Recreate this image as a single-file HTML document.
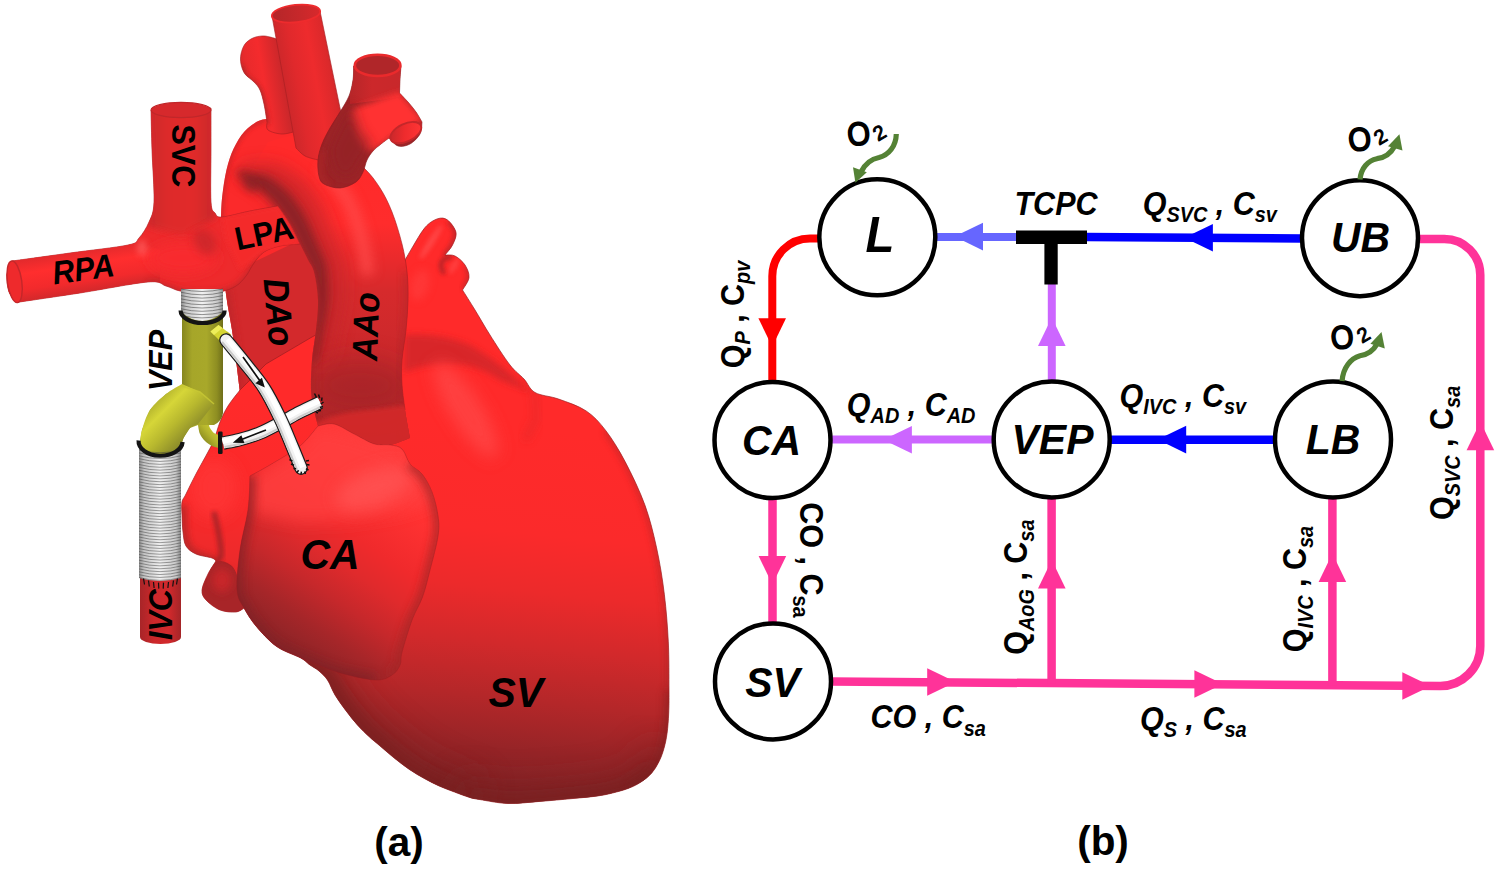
<!DOCTYPE html>
<html><head><meta charset="utf-8">
<style>
html,body{margin:0;padding:0;background:#fff;}
body{width:1499px;height:869px;overflow:hidden;}
svg{display:block;}
text{font-family:"Liberation Sans",sans-serif;font-weight:bold;fill:#000;}
.it{font-style:italic;}
.lbl{font-size:32.8px;font-style:italic;}
.up{font-style:normal;}
.up .sub{font-style:italic;}
.up .subn{font-style:normal;font-size:21.4px;}
.sub{font-size:21.4px;}
.node{font-size:43.3px;font-style:italic;text-anchor:middle;}
.cap{font-size:40.5px;text-anchor:middle;}
.oo{font-size:31px;font-weight:normal;stroke:#000;stroke-width:1.7;}
.o2s{font-size:20px;font-weight:normal;stroke:#000;stroke-width:1;}
.hlb{font-size:32.8px;}
.hli{font-size:32.8px;font-style:italic;}
.hln{font-size:43.3px;font-style:italic;}
.circ{fill:#fff;stroke:#000;stroke-width:4.5;}
</style></head>
<body>
<svg width="1499" height="869" viewBox="0 0 1499 869">
<rect width="1499" height="869" fill="#fff"/>
<!--HEART-->
<g id="heart">
<defs>
<filter id="b2" x="-60%" y="-60%" width="220%" height="220%"><feGaussianBlur stdDeviation="2"/></filter>
<filter id="b3" x="-60%" y="-60%" width="220%" height="220%"><feGaussianBlur stdDeviation="3"/></filter>
<filter id="b4" x="-60%" y="-60%" width="220%" height="220%"><feGaussianBlur stdDeviation="4"/></filter>
<filter id="b6" x="-60%" y="-60%" width="220%" height="220%"><feGaussianBlur stdDeviation="6"/></filter>
<filter id="b8" x="-60%" y="-60%" width="220%" height="220%"><feGaussianBlur stdDeviation="8"/></filter>
<filter id="b12" x="-60%" y="-60%" width="220%" height="220%"><feGaussianBlur stdDeviation="12"/></filter>
<filter id="b16" x="-60%" y="-60%" width="220%" height="220%"><feGaussianBlur stdDeviation="16"/></filter>
<filter id="b24" x="-60%" y="-60%" width="220%" height="220%"><feGaussianBlur stdDeviation="24"/></filter>
<clipPath id="cArchB"><path d="M240.0 392.0 C239.3 386.7 237.3 370.3 236.0 360.0 C234.7 349.7 233.7 341.0 232.0 330.0 C230.3 319.0 227.7 307.3 226.0 294.0 C224.3 280.7 222.8 263.0 222.0 250.0 C221.2 237.0 220.8 226.0 221.0 216.0 C221.2 206.0 221.8 198.7 223.0 190.0 C224.2 181.3 225.8 171.7 228.0 164.0 C230.2 156.3 232.7 150.0 236.0 144.0 C239.3 138.0 243.0 132.2 248.0 128.0 C253.0 123.8 258.7 119.7 266.0 119.0 C273.3 118.3 281.3 120.5 292.0 124.0 C302.7 127.5 318.0 132.7 330.0 140.0 C342.0 147.3 358.3 163.3 364.0 168.0 L400.0 330.0 L320.0 360.0 L266.0 366.0 L240.0 392.0 Z"/></clipPath>
<clipPath id="cTV"><path d="M151.0 110.0 C151.2 116.7 151.5 134.7 152.0 150.0 C152.5 165.3 154.5 190.0 154.0 202.0 C153.5 214.0 151.5 216.0 149.0 222.0 C146.5 228.0 142.5 234.2 139.0 238.0 C135.5 241.8 139.5 242.5 128.0 245.0 C116.5 247.5 89.3 250.3 70.0 253.0 C50.7 255.7 21.7 259.7 12.0 261.0 C11.2 263.3 7.5 269.8 7.0 275.0 C6.5 280.2 7.3 287.4 9.0 292.0 C10.7 296.6 15.7 300.7 17.0 302.4 C27.5 300.8 58.2 296.4 80.0 293.0 C101.8 289.6 133.7 283.2 148.0 282.0 C162.3 280.8 160.7 284.5 166.0 286.0 C171.3 287.5 174.3 289.8 180.0 291.0 C185.7 292.2 193.3 292.8 200.0 293.0 C206.7 293.2 214.0 293.2 220.0 292.0 C226.0 290.8 231.7 288.7 236.0 286.0 C240.3 283.3 243.0 279.8 246.0 276.0 C249.0 272.2 251.0 267.0 254.0 263.0 C257.0 259.0 259.7 254.8 264.0 252.0 C268.3 249.2 274.0 247.3 280.0 246.0 C286.0 244.7 296.7 244.3 300.0 244.0 L290.0 224.0 L278.0 206.0 C273.3 206.8 259.3 209.2 250.0 211.0 C240.7 212.8 227.8 216.7 222.0 217.0 C216.2 217.3 216.8 215.5 215.0 213.0 C213.2 210.5 211.7 212.5 211.0 202.0 C210.3 191.5 211.0 165.7 211.0 150.0 C211.0 134.3 211.0 115.0 211.0 108.0 L151.0 110.0 Z"/></clipPath>
<linearGradient id="gTV" gradientUnits="userSpaceOnUse" x1="150" y1="0" x2="212" y2="0"><stop offset="0" stop-color="#cc282b"/><stop offset="0.3" stop-color="#de2a2c"/><stop offset="0.7" stop-color="#e22a2c"/><stop offset="1" stop-color="#ca282b"/></linearGradient>
<linearGradient id="gRPA" gradientUnits="userSpaceOnUse" x1="70" y1="250" x2="77" y2="296"><stop offset="0" stop-color="#de292c"/><stop offset="0.35" stop-color="#ff2e2e"/><stop offset="0.7" stop-color="#f22a2c"/><stop offset="1" stop-color="#cc282b"/></linearGradient>
<clipPath id="cBody"><path d="M240.0 390.0 C238.0 392.7 231.3 400.7 228.0 406.0 C224.7 411.3 222.3 416.3 220.0 422.0 C217.7 427.7 216.0 435.0 214.0 440.0 C212.0 445.0 211.0 446.3 208.0 452.0 C205.0 457.7 199.7 467.0 196.0 474.0 C192.3 481.0 188.3 489.3 186.0 494.0 C183.7 498.7 182.7 498.5 182.0 502.0 C181.3 505.5 181.8 510.0 182.0 515.0 C182.2 520.0 182.3 526.8 183.0 532.0 C183.7 537.2 183.8 542.3 186.0 546.0 C188.2 549.7 191.7 552.0 196.0 554.0 C200.3 556.0 208.7 556.8 212.0 558.0 C215.3 559.2 215.3 560.5 216.0 561.0 C214.7 563.2 210.3 569.2 208.0 574.0 C205.7 578.8 202.3 585.7 202.0 590.0 C201.7 594.3 203.0 596.7 206.0 600.0 C209.0 603.3 215.0 608.0 220.0 610.0 C225.0 612.0 232.0 612.3 236.0 612.0 C240.0 611.7 242.7 608.7 244.0 608.0 C246.0 611.0 250.7 619.7 256.0 626.0 C261.3 632.3 268.7 640.8 276.0 646.0 C283.3 651.2 294.3 654.3 300.0 657.5 C305.7 660.7 306.8 662.8 310.0 665.0 C313.2 667.2 316.1 668.5 319.0 671.0 C321.9 673.5 324.8 676.0 327.5 680.0 C330.2 684.0 332.0 690.0 335.0 695.0 C338.0 700.0 341.7 705.0 345.4 710.0 C349.1 715.0 353.4 720.4 357.4 724.9 C361.4 729.4 365.6 733.3 369.3 736.8 C373.0 740.3 375.6 742.2 379.8 745.8 C384.1 749.4 389.8 754.5 394.8 758.5 C399.8 762.5 404.7 766.3 409.7 769.7 C414.7 773.1 419.7 776.0 424.7 778.7 C429.7 781.5 434.6 784.0 439.6 786.2 C444.6 788.4 449.6 790.2 454.6 792.1 C459.6 794.0 465.3 796.1 469.5 797.4 C473.7 798.6 473.6 798.6 480.0 799.6 C486.4 800.6 498.0 803.2 508.0 803.5 C518.0 803.8 529.3 802.2 540.0 801.4 C550.7 800.6 562.3 799.5 572.0 798.6 C581.7 797.7 591.1 796.9 598.0 795.9 C604.9 794.9 608.3 794.1 613.4 792.8 C618.5 791.5 624.2 790.0 628.8 788.2 C633.4 786.4 637.2 784.5 641.0 782.0 C644.8 779.5 648.7 776.5 651.8 772.9 C654.9 769.3 657.5 764.7 659.5 760.6 C661.5 756.5 662.7 752.9 664.0 748.3 C665.3 743.7 666.3 738.9 667.1 733.0 C667.9 727.1 668.4 720.2 668.7 713.0 C669.0 705.8 669.1 701.9 669.0 690.0 C668.9 678.1 669.1 657.7 668.3 641.8 C667.5 625.9 666.3 610.4 664.4 594.8 C662.5 579.1 659.9 562.9 656.6 547.9 C653.3 532.9 650.0 519.1 644.8 504.8 C639.6 490.5 631.7 474.2 625.2 461.8 C618.7 449.4 612.2 439.0 605.7 430.5 C599.2 422.0 593.9 416.1 586.1 410.9 C578.3 405.7 567.2 402.2 558.7 399.1 C550.2 396.0 540.8 395.9 535.0 392.5 C529.2 389.1 528.2 383.6 524.0 379.0 C519.8 374.4 515.7 372.3 510.0 365.0 C504.3 357.7 495.8 344.2 490.0 335.0 C484.2 325.8 479.6 317.5 475.0 310.0 C470.4 302.5 464.6 293.3 462.5 290.0 C463.6 287.9 468.6 281.7 469.0 277.5 C469.4 273.3 467.3 268.6 465.0 265.0 C462.7 261.4 458.3 257.7 455.0 256.0 C451.7 254.3 446.7 255.2 445.0 255.0 C446.2 253.3 450.7 248.8 452.5 245.0 C454.3 241.2 456.8 236.7 456.0 232.5 C455.2 228.3 450.6 222.3 447.5 220.0 C444.4 217.7 441.2 217.6 437.5 218.8 C433.8 220.1 429.2 222.6 425.0 227.5 C420.8 232.4 415.5 242.2 412.0 248.0 C408.5 253.8 405.3 259.7 404.0 262.0 L380.0 300.0 L312.0 337.0 L266.0 364.0 L240.0 390.0 Z"/></clipPath>
<linearGradient id="gBody" gradientUnits="userSpaceOnUse" x1="545" y1="430" x2="505" y2="815"><stop offset="0" stop-color="#ff2a2a"/><stop offset="0.27" stop-color="#fb2a2b"/><stop offset="0.42" stop-color="#ec2a2b"/><stop offset="0.56" stop-color="#d2292b"/><stop offset="0.7" stop-color="#b42729"/><stop offset="0.83" stop-color="#962427"/><stop offset="0.93" stop-color="#842326"/><stop offset="1" stop-color="#7e2225"/></linearGradient>
<clipPath id="cAAo"><path d="M246.0 180.0 C248.3 181.3 255.0 184.0 260.0 188.0 C265.0 192.0 271.0 198.0 276.0 204.0 C281.0 210.0 286.0 217.3 290.0 224.0 C294.0 230.7 297.0 238.0 300.0 244.0 C303.0 250.0 305.7 255.3 308.0 260.0 C310.3 264.7 312.3 265.3 314.0 272.0 C315.7 278.7 317.7 290.3 318.0 300.0 C318.3 309.7 317.0 320.0 316.0 330.0 C315.0 340.0 312.8 350.0 312.0 360.0 C311.2 370.0 310.7 381.7 311.0 390.0 C311.3 398.3 312.8 404.0 314.0 410.0 C315.2 416.0 317.3 423.3 318.0 426.0 C320.7 425.7 328.0 422.7 334.0 424.0 C340.0 425.3 347.3 430.7 354.0 434.0 C360.7 437.3 368.0 442.2 374.0 444.0 C380.0 445.8 384.0 446.0 390.0 445.0 C396.0 444.0 406.7 439.2 410.0 438.0 C409.2 433.3 406.3 418.8 405.0 410.0 C403.7 401.2 402.5 393.3 402.0 385.0 C401.5 376.7 401.3 369.2 402.0 360.0 C402.7 350.8 405.0 340.0 406.0 330.0 C407.0 320.0 407.8 309.7 408.0 300.0 C408.2 290.3 408.0 281.3 407.0 272.0 C406.0 262.7 404.5 254.0 402.0 244.0 C399.5 234.0 395.7 221.3 392.0 212.0 C388.3 202.7 384.7 195.3 380.0 188.0 C375.3 180.7 370.7 174.3 364.0 168.0 C357.3 161.7 350.7 155.3 340.0 150.0 C329.3 144.7 312.0 137.3 300.0 136.0 C288.0 134.7 273.3 141.0 268.0 142.0 L246.0 180.0 Z"/></clipPath>
<linearGradient id="gAAoV" gradientUnits="userSpaceOnUse" x1="0" y1="170" x2="0" y2="440"><stop offset="0" stop-color="#ff2a2a"/><stop offset="0.2" stop-color="#ff2c2c"/><stop offset="0.33" stop-color="#ea2a2c"/><stop offset="0.45" stop-color="#d62a2c"/><stop offset="0.75" stop-color="#c8282b"/><stop offset="0.9" stop-color="#b42629"/><stop offset="1" stop-color="#a82528"/></linearGradient>
<clipPath id="cFold"><path d="M246.0 180.0 C248.3 181.3 255.0 184.0 260.0 188.0 C265.0 192.0 271.0 198.0 276.0 204.0 C281.0 210.0 286.0 217.3 290.0 224.0 C294.0 230.7 297.0 238.0 300.0 244.0 C303.0 250.0 305.7 255.3 308.0 260.0 C310.3 264.7 312.3 265.3 314.0 272.0 C315.7 278.7 317.7 290.3 318.0 300.0 C318.3 309.7 317.0 320.0 316.0 330.0 C315.0 340.0 312.8 350.0 312.0 360.0 C311.2 370.0 310.7 381.7 311.0 390.0 C311.3 398.3 312.8 404.0 314.0 410.0 C315.2 416.0 317.3 423.3 318.0 426.0 C320.7 425.7 328.0 422.7 334.0 424.0 C340.0 425.3 347.3 430.7 354.0 434.0 C360.7 437.3 368.0 442.2 374.0 444.0 C380.0 445.8 384.0 446.0 390.0 445.0 C396.0 444.0 406.7 439.2 410.0 438.0 C409.2 433.3 406.3 418.8 405.0 410.0 C403.7 401.2 402.5 393.3 402.0 385.0 C401.5 376.7 401.3 369.2 402.0 360.0 C402.7 350.8 405.0 340.0 406.0 330.0 C407.0 320.0 407.8 309.7 408.0 300.0 C408.2 290.3 408.0 281.3 407.0 272.0 C406.0 262.7 404.5 254.0 402.0 244.0 C399.5 234.0 395.7 221.3 392.0 212.0 C388.3 202.7 384.7 195.3 380.0 188.0 C375.3 180.7 370.7 174.3 364.0 168.0 C357.3 161.7 350.7 155.3 340.0 150.0 C329.3 144.7 312.0 137.3 300.0 136.0 C288.0 134.7 273.3 141.0 268.0 142.0 L246.0 180.0 Z"/><path d="M215 110 L300 110 L300 200 L278 206 L222 217 Z"/></clipPath>
<clipPath id="cA"><path d="M267.0 122.0 C266.5 119.0 265.2 109.3 264.0 104.0 C262.8 98.7 261.7 93.7 260.0 90.0 C258.3 86.3 256.5 84.7 254.0 82.0 C251.5 79.3 247.2 77.0 245.0 74.0 C242.8 71.0 241.7 67.3 241.0 64.0 C240.3 60.7 240.3 57.3 241.0 54.0 C241.7 50.7 243.0 46.7 245.0 44.0 C247.0 41.3 250.2 39.3 253.0 38.0 C255.8 36.7 259.2 36.2 262.0 36.0 C264.8 35.8 267.0 36.3 270.0 37.0 C273.0 37.7 278.3 39.5 280.0 40.0 L297.0 131.0 C294.5 131.5 286.8 134.2 282.0 134.0 C277.2 133.8 270.5 132.0 268.0 130.0 C265.5 128.0 267.2 123.3 267.0 122.0 Z"/></clipPath>
<linearGradient id="gA" gradientUnits="userSpaceOnUse" x1="238" y1="75" x2="292" y2="66"><stop offset="0" stop-color="#cc282b"/><stop offset="0.18" stop-color="#e82a2c"/><stop offset="0.45" stop-color="#f42b2d"/><stop offset="0.75" stop-color="#d2282b"/><stop offset="1" stop-color="#b42629"/></linearGradient>
<linearGradient id="gB" gradientUnits="userSpaceOnUse" x1="270" y1="82" x2="336" y2="70"><stop offset="0" stop-color="#ac2528"/><stop offset="0.12" stop-color="#c6272a"/><stop offset="0.4" stop-color="#e0292c"/><stop offset="0.68" stop-color="#ee2b2d"/><stop offset="0.9" stop-color="#dc292b"/><stop offset="1" stop-color="#c8282b"/></linearGradient>
<linearGradient id="gBe" gradientUnits="userSpaceOnUse" x1="272" y1="0" x2="320" y2="0"><stop offset="0" stop-color="#b42629"/><stop offset="0.6" stop-color="#c8282b"/><stop offset="1" stop-color="#d8292c"/></linearGradient>
<clipPath id="cC"><path d="M353.6 66.0 C353.5 68.3 353.8 75.0 353.0 80.0 C352.2 85.0 351.2 90.7 349.0 96.0 C346.8 101.3 343.2 106.7 340.0 112.0 C336.8 117.3 333.0 122.7 330.0 128.0 C327.0 133.3 324.0 138.7 322.0 144.0 C320.0 149.3 318.5 154.7 318.0 160.0 C317.5 165.3 318.0 172.0 319.0 176.0 C320.0 180.0 320.5 182.0 324.0 184.0 C327.5 186.0 334.7 188.3 340.0 188.0 C345.3 187.7 352.2 184.7 356.0 182.0 C359.8 179.3 361.2 175.7 363.0 172.0 C364.8 168.3 365.3 163.5 367.0 160.0 C368.7 156.5 370.7 153.7 373.0 151.0 C375.3 148.3 378.3 146.2 381.0 144.0 C383.7 141.8 387.7 139.0 389.0 138.0 C390.5 139.3 394.5 145.0 398.0 146.0 C401.5 147.0 406.3 146.0 410.0 144.0 C413.7 142.0 418.0 137.7 420.0 134.0 C422.0 130.3 421.7 124.0 422.0 122.0 C421.0 120.3 418.3 115.3 416.0 112.0 C413.7 108.7 410.8 105.2 408.0 102.0 C405.2 98.8 400.9 94.5 399.5 93.0 C399.6 90.8 399.8 84.5 400.0 80.0 C400.2 75.5 400.8 68.3 401.0 66.0 L353.6 66.0 Z"/></clipPath>
<linearGradient id="gCt" gradientUnits="userSpaceOnUse" x1="352" y1="0" x2="402" y2="0"><stop offset="0" stop-color="#b82629"/><stop offset="0.4" stop-color="#cc282b"/><stop offset="1" stop-color="#c8282b"/></linearGradient>
<linearGradient id="gCe" gradientUnits="userSpaceOnUse" x1="392" y1="125" x2="420" y2="140"><stop offset="0" stop-color="#c8282b"/><stop offset="0.45" stop-color="#ee2b2d"/><stop offset="1" stop-color="#ff3636"/></linearGradient>
<clipPath id="cCA"><path d="M250.0 476.0 C253.3 474.2 261.7 470.0 270.0 465.0 C278.3 460.0 292.0 452.5 300.0 446.0 C308.0 439.5 315.0 429.3 318.0 426.0 C320.7 425.7 328.0 422.7 334.0 424.0 C340.0 425.3 347.3 430.7 354.0 434.0 C360.7 437.3 368.0 442.2 374.0 444.0 C380.0 445.8 385.3 444.2 390.0 445.0 C394.7 445.8 398.7 445.8 402.0 449.0 C405.3 452.2 406.7 459.8 410.0 464.0 C413.3 468.2 418.3 469.3 422.0 474.0 C425.7 478.7 429.3 485.0 432.0 492.0 C434.7 499.0 437.0 508.7 438.0 516.0 C439.0 523.3 439.3 527.0 438.0 536.0 C436.7 545.0 432.6 559.8 430.0 570.0 C427.4 580.2 425.5 588.7 422.5 597.0 C419.5 605.3 415.4 610.8 412.0 620.0 C408.6 629.2 404.0 644.5 402.0 652.0 C400.0 659.5 401.7 661.2 400.0 665.0 C398.3 668.8 396.2 672.5 392.0 675.0 C387.8 677.5 384.2 680.5 375.0 680.0 C365.8 679.5 349.5 675.8 337.0 672.0 C324.5 668.2 310.2 661.8 300.0 657.5 C289.8 653.2 283.3 651.2 276.0 646.0 C268.7 640.8 261.3 632.3 256.0 626.0 C250.7 619.7 247.2 614.0 244.0 608.0 C240.8 602.0 237.7 599.7 237.0 590.0 C236.3 580.3 238.2 563.3 240.0 550.0 C241.8 536.7 246.3 522.3 248.0 510.0 C249.7 497.7 249.7 481.7 250.0 476.0 Z"/></clipPath>
<linearGradient id="gCA" gradientUnits="userSpaceOnUse" x1="412" y1="452" x2="268" y2="662"><stop offset="0" stop-color="#ff3c3c"/><stop offset="0.2" stop-color="#ff3232"/><stop offset="0.4" stop-color="#f02a2c"/><stop offset="0.52" stop-color="#e02a2c"/><stop offset="0.65" stop-color="#c6282b"/><stop offset="0.78" stop-color="#a62629"/><stop offset="0.9" stop-color="#8e2427"/><stop offset="1" stop-color="#822226"/></linearGradient>
<linearGradient id="gIVC" gradientUnits="userSpaceOnUse" x1="140" y1="0" x2="181" y2="0"><stop offset="0" stop-color="#a82528"/><stop offset="0.35" stop-color="#cc282b"/><stop offset="0.7" stop-color="#d2292c"/><stop offset="1" stop-color="#a42528"/></linearGradient>
<linearGradient id="gGraft" gradientUnits="userSpaceOnUse" x1="139" y1="0" x2="181" y2="0"><stop offset="0" stop-color="#8c8c8c"/><stop offset="0.12" stop-color="#c4c4c4"/><stop offset="0.5" stop-color="#f0f0f0"/><stop offset="0.88" stop-color="#c8c8c8"/><stop offset="1" stop-color="#888888"/></linearGradient>
<linearGradient id="gGraft2" gradientUnits="userSpaceOnUse" x1="181" y1="0" x2="223" y2="0"><stop offset="0" stop-color="#8c8c8c"/><stop offset="0.12" stop-color="#c4c4c4"/><stop offset="0.5" stop-color="#f2f2f2"/><stop offset="0.88" stop-color="#c8c8c8"/><stop offset="1" stop-color="#888888"/></linearGradient>
<linearGradient id="gYel" gradientUnits="userSpaceOnUse" x1="182" y1="0" x2="223" y2="0"><stop offset="0" stop-color="#86861f"/><stop offset="0.25" stop-color="#a6a629"/><stop offset="0.6" stop-color="#a8a82a"/><stop offset="0.85" stop-color="#8e8e22"/><stop offset="1" stop-color="#6e6e1a"/></linearGradient>
<linearGradient id="gYel2" gradientUnits="userSpaceOnUse" x1="148" y1="398" x2="196" y2="446"><stop offset="0" stop-color="#a0a028"/><stop offset="0.3" stop-color="#d6d638"/><stop offset="0.55" stop-color="#b8b82e"/><stop offset="0.8" stop-color="#90902a"/><stop offset="1" stop-color="#6e6e1a"/></linearGradient>
<pattern id="ribs" patternUnits="userSpaceOnUse" x="0" y="450.5" width="10" height="2.85"><rect width="10" height="1.05" fill="#2a2a2a" opacity=".8"/></pattern>
<pattern id="ribs2" patternUnits="userSpaceOnUse" x="0" y="293" width="10" height="3.3"><rect width="10" height="1.2" fill="#2a2a2a" opacity=".8"/></pattern>
<linearGradient id="gNoz" gradientUnits="userSpaceOnUse" x1="200" y1="440" x2="214" y2="428"><stop offset="0" stop-color="#84841f"/><stop offset="0.6" stop-color="#b4b42c"/><stop offset="1" stop-color="#c8c832"/></linearGradient>
</defs>
<path d="M240.0 392.0 C239.3 386.7 237.3 370.3 236.0 360.0 C234.7 349.7 233.7 341.0 232.0 330.0 C230.3 319.0 227.7 307.3 226.0 294.0 C224.3 280.7 222.8 263.0 222.0 250.0 C221.2 237.0 220.8 226.0 221.0 216.0 C221.2 206.0 221.8 198.7 223.0 190.0 C224.2 181.3 225.8 171.7 228.0 164.0 C230.2 156.3 232.7 150.0 236.0 144.0 C239.3 138.0 243.0 132.2 248.0 128.0 C253.0 123.8 258.7 119.7 266.0 119.0 C273.3 118.3 281.3 120.5 292.0 124.0 C302.7 127.5 318.0 132.7 330.0 140.0 C342.0 147.3 358.3 163.3 364.0 168.0 L400.0 330.0 L320.0 360.0 L266.0 366.0 L240.0 392.0 Z" fill="#fb2a2b"/>
<g clip-path="url(#cArchB)">
<path d="M218 262 L254 262 L300 240 L330 300 L320 360 L230 400 Z" fill="#d3292c"/>
<path d="M226 290 L232 330 L238 370 L240 395" fill="none" stroke="#b82629" stroke-width="7" filter="url(#b3)" opacity=".7"/>
<path d="M221.0 222.0 C221.3 216.7 221.8 199.7 223.0 190.0 C224.2 180.3 225.8 171.7 228.0 164.0 C230.2 156.3 232.7 150.0 236.0 144.0 C239.3 138.0 243.0 132.2 248.0 128.0 C253.0 123.8 263.0 120.5 266.0 119.0" fill="none" stroke="#c0272a" stroke-width="4" filter="url(#b2)" opacity=".8"/>
</g>
<path d="M151.0 110.0 C151.2 116.7 151.5 134.7 152.0 150.0 C152.5 165.3 154.5 190.0 154.0 202.0 C153.5 214.0 151.5 216.0 149.0 222.0 C146.5 228.0 142.5 234.2 139.0 238.0 C135.5 241.8 139.5 242.5 128.0 245.0 C116.5 247.5 89.3 250.3 70.0 253.0 C50.7 255.7 21.7 259.7 12.0 261.0 C11.2 263.3 7.5 269.8 7.0 275.0 C6.5 280.2 7.3 287.4 9.0 292.0 C10.7 296.6 15.7 300.7 17.0 302.4 C27.5 300.8 58.2 296.4 80.0 293.0 C101.8 289.6 133.7 283.2 148.0 282.0 C162.3 280.8 160.7 284.5 166.0 286.0 C171.3 287.5 174.3 289.8 180.0 291.0 C185.7 292.2 193.3 292.8 200.0 293.0 C206.7 293.2 214.0 293.2 220.0 292.0 C226.0 290.8 231.7 288.7 236.0 286.0 C240.3 283.3 243.0 279.8 246.0 276.0 C249.0 272.2 251.0 267.0 254.0 263.0 C257.0 259.0 259.7 254.8 264.0 252.0 C268.3 249.2 274.0 247.3 280.0 246.0 C286.0 244.7 296.7 244.3 300.0 244.0 L290.0 224.0 L278.0 206.0 C273.3 206.8 259.3 209.2 250.0 211.0 C240.7 212.8 227.8 216.7 222.0 217.0 C216.2 217.3 216.8 215.5 215.0 213.0 C213.2 210.5 211.7 212.5 211.0 202.0 C210.3 191.5 211.0 165.7 211.0 150.0 C211.0 134.3 211.0 115.0 211.0 108.0 L151.0 110.0 Z" fill="#ee2a2c" stroke="#a81e22" stroke-width=".9" stroke-opacity=".7"/>
<g clip-path="url(#cTV)">
<path d="M148 100 L214 100 L214 200 L216 218 L182 236 L146 226 L152 200 Z" fill="url(#gTV)" filter="url(#b3)"/>
<path d="M0 255 L128 238 L160 250 L160 285 L0 310 Z" fill="url(#gRPA)"/>
<ellipse cx="183" cy="258" rx="34" ry="16" fill="#f82c2d" filter="url(#b6)"/>
<ellipse cx="205" cy="242" rx="10" ry="14" transform="rotate(-30 205 242)" fill="#c8282b" filter="url(#b4)" opacity=".8"/>
<ellipse cx="142" cy="248" rx="5" ry="8" fill="#ff5a5a" filter="url(#b3)" opacity=".8"/>
<path d="M148.0 284.0 C151.0 284.7 160.7 286.5 166.0 288.0 C171.3 289.5 174.3 291.8 180.0 293.0 C185.7 294.2 193.3 294.8 200.0 295.0 C206.7 295.2 213.8 295.2 220.0 294.0 C226.2 292.8 232.3 290.8 237.0 288.0 C241.7 285.2 244.8 281.0 248.0 277.0 C251.2 273.0 253.0 267.8 256.0 264.0 C259.0 260.2 264.3 255.7 266.0 254.0" fill="none" stroke="#b42629" stroke-width="7" filter="url(#b3)" opacity=".75"/>
<path d="M222 217 L278 206 L300 244 L264 252 L240 270 L226 240 Z" fill="#f42a2c" filter="url(#b2)"/>
</g>
<ellipse cx="181" cy="110" rx="30" ry="7.6" fill="#d6292c" stroke="#c0272a" stroke-width="1.1"/>
<ellipse cx="14.6" cy="281.8" rx="7.2" ry="21" transform="rotate(-8 14.6 281.8)" fill="#ee2a2c" stroke="#c4272a" stroke-width="1.4"/>
<path d="M240.0 390.0 C238.0 392.7 231.3 400.7 228.0 406.0 C224.7 411.3 222.3 416.3 220.0 422.0 C217.7 427.7 216.0 435.0 214.0 440.0 C212.0 445.0 211.0 446.3 208.0 452.0 C205.0 457.7 199.7 467.0 196.0 474.0 C192.3 481.0 188.3 489.3 186.0 494.0 C183.7 498.7 182.7 498.5 182.0 502.0 C181.3 505.5 181.8 510.0 182.0 515.0 C182.2 520.0 182.3 526.8 183.0 532.0 C183.7 537.2 183.8 542.3 186.0 546.0 C188.2 549.7 191.7 552.0 196.0 554.0 C200.3 556.0 208.7 556.8 212.0 558.0 C215.3 559.2 215.3 560.5 216.0 561.0 C214.7 563.2 210.3 569.2 208.0 574.0 C205.7 578.8 202.3 585.7 202.0 590.0 C201.7 594.3 203.0 596.7 206.0 600.0 C209.0 603.3 215.0 608.0 220.0 610.0 C225.0 612.0 232.0 612.3 236.0 612.0 C240.0 611.7 242.7 608.7 244.0 608.0 C246.0 611.0 250.7 619.7 256.0 626.0 C261.3 632.3 268.7 640.8 276.0 646.0 C283.3 651.2 294.3 654.3 300.0 657.5 C305.7 660.7 306.8 662.8 310.0 665.0 C313.2 667.2 316.1 668.5 319.0 671.0 C321.9 673.5 324.8 676.0 327.5 680.0 C330.2 684.0 332.0 690.0 335.0 695.0 C338.0 700.0 341.7 705.0 345.4 710.0 C349.1 715.0 353.4 720.4 357.4 724.9 C361.4 729.4 365.6 733.3 369.3 736.8 C373.0 740.3 375.6 742.2 379.8 745.8 C384.1 749.4 389.8 754.5 394.8 758.5 C399.8 762.5 404.7 766.3 409.7 769.7 C414.7 773.1 419.7 776.0 424.7 778.7 C429.7 781.5 434.6 784.0 439.6 786.2 C444.6 788.4 449.6 790.2 454.6 792.1 C459.6 794.0 465.3 796.1 469.5 797.4 C473.7 798.6 473.6 798.6 480.0 799.6 C486.4 800.6 498.0 803.2 508.0 803.5 C518.0 803.8 529.3 802.2 540.0 801.4 C550.7 800.6 562.3 799.5 572.0 798.6 C581.7 797.7 591.1 796.9 598.0 795.9 C604.9 794.9 608.3 794.1 613.4 792.8 C618.5 791.5 624.2 790.0 628.8 788.2 C633.4 786.4 637.2 784.5 641.0 782.0 C644.8 779.5 648.7 776.5 651.8 772.9 C654.9 769.3 657.5 764.7 659.5 760.6 C661.5 756.5 662.7 752.9 664.0 748.3 C665.3 743.7 666.3 738.9 667.1 733.0 C667.9 727.1 668.4 720.2 668.7 713.0 C669.0 705.8 669.1 701.9 669.0 690.0 C668.9 678.1 669.1 657.7 668.3 641.8 C667.5 625.9 666.3 610.4 664.4 594.8 C662.5 579.1 659.9 562.9 656.6 547.9 C653.3 532.9 650.0 519.1 644.8 504.8 C639.6 490.5 631.7 474.2 625.2 461.8 C618.7 449.4 612.2 439.0 605.7 430.5 C599.2 422.0 593.9 416.1 586.1 410.9 C578.3 405.7 567.2 402.2 558.7 399.1 C550.2 396.0 540.8 395.9 535.0 392.5 C529.2 389.1 528.2 383.6 524.0 379.0 C519.8 374.4 515.7 372.3 510.0 365.0 C504.3 357.7 495.8 344.2 490.0 335.0 C484.2 325.8 479.6 317.5 475.0 310.0 C470.4 302.5 464.6 293.3 462.5 290.0 C463.6 287.9 468.6 281.7 469.0 277.5 C469.4 273.3 467.3 268.6 465.0 265.0 C462.7 261.4 458.3 257.7 455.0 256.0 C451.7 254.3 446.7 255.2 445.0 255.0 C446.2 253.3 450.7 248.8 452.5 245.0 C454.3 241.2 456.8 236.7 456.0 232.5 C455.2 228.3 450.6 222.3 447.5 220.0 C444.4 217.7 441.2 217.6 437.5 218.8 C433.8 220.1 429.2 222.6 425.0 227.5 C420.8 232.4 415.5 242.2 412.0 248.0 C408.5 253.8 405.3 259.7 404.0 262.0 L380.0 300.0 L312.0 337.0 L266.0 364.0 L240.0 390.0 Z" fill="url(#gBody)" stroke="#9a1c20" stroke-width=".9" stroke-opacity=".75"/>
<g clip-path="url(#cBody)">
<path d="M300.0 657.5 C301.7 658.8 306.8 662.8 310.0 665.0 C313.2 667.2 316.1 668.5 319.0 671.0 C321.9 673.5 324.8 676.0 327.5 680.0 C330.2 684.0 332.0 690.0 335.0 695.0 C338.0 700.0 341.7 705.0 345.4 710.0 C349.1 715.0 353.4 720.4 357.4 724.9 C361.4 729.4 365.6 733.3 369.3 736.8 C373.0 740.3 375.6 742.2 379.8 745.8 C384.1 749.4 389.8 754.5 394.8 758.5 C399.8 762.5 404.7 766.3 409.7 769.7 C414.7 773.1 419.7 776.0 424.7 778.7 C429.7 781.5 434.6 784.0 439.6 786.2 C444.6 788.4 449.6 790.2 454.6 792.1 C459.6 794.0 465.3 796.1 469.5 797.4 C473.7 798.6 473.6 798.6 480.0 799.6 C486.4 800.6 498.0 803.2 508.0 803.5 C518.0 803.8 529.3 802.2 540.0 801.4 C550.7 800.6 562.3 799.5 572.0 798.6 C581.7 797.7 591.1 796.9 598.0 795.9 C604.9 794.9 608.3 794.1 613.4 792.8 C618.5 791.5 624.2 790.0 628.8 788.2 C633.4 786.4 637.2 784.5 641.0 782.0 C644.8 779.5 650.0 774.4 651.8 772.9" fill="none" stroke="#7a2124" stroke-width="20" filter="url(#b6)" opacity=".7"/>
<path d="M628.8 788.2 C630.8 787.2 637.2 784.5 641.0 782.0 C644.8 779.5 648.7 776.5 651.8 772.9 C654.9 769.3 657.5 764.7 659.5 760.6 C661.5 756.5 662.7 752.9 664.0 748.3 C665.3 743.7 666.3 738.9 667.1 733.0 C667.9 727.1 668.4 720.2 668.7 713.0 C669.0 705.8 669.0 693.8 669.0 690.0" fill="none" stroke="#7a2124" stroke-width="8" filter="url(#b4)" opacity=".6"/>
<path d="M256.0 626.0 C259.3 629.3 268.7 640.8 276.0 646.0 C283.3 651.2 294.3 654.3 300.0 657.5 C305.7 660.7 306.8 662.8 310.0 665.0 C313.2 667.2 316.1 668.5 319.0 671.0 C321.9 673.5 324.8 676.0 327.5 680.0 C330.2 684.0 332.0 690.0 335.0 695.0 C338.0 700.0 341.7 705.0 345.4 710.0 C349.1 715.0 353.4 720.4 357.4 724.9 C361.4 729.4 365.6 733.3 369.3 736.8 C373.0 740.3 375.6 742.2 379.8 745.8 C384.1 749.4 389.8 754.5 394.8 758.5 C399.8 762.5 404.7 766.3 409.7 769.7 C414.7 773.1 419.7 776.0 424.7 778.7 C429.7 781.5 434.6 784.0 439.6 786.2 C444.6 788.4 449.6 790.2 454.6 792.1 C459.6 794.0 465.3 796.1 469.5 797.4 C473.7 798.6 478.2 799.2 480.0 799.6" fill="none" stroke="#7a2124" stroke-width="40" filter="url(#b16)" opacity=".6"/>
<path d="M454.6 792.1 C457.1 793.0 465.3 796.1 469.5 797.4 C473.7 798.6 473.6 798.6 480.0 799.6 C486.4 800.6 498.0 803.2 508.0 803.5 C518.0 803.8 529.3 802.2 540.0 801.4 C550.7 800.6 562.3 799.5 572.0 798.6 C581.7 797.7 591.1 796.9 598.0 795.9 C604.9 794.9 608.3 794.1 613.4 792.8 C618.5 791.5 624.2 790.0 628.8 788.2 C633.4 786.4 637.2 784.5 641.0 782.0 C644.8 779.5 648.7 776.5 651.8 772.9 C654.9 769.3 657.5 764.7 659.5 760.6 C661.5 756.5 663.2 750.3 664.0 748.3" fill="none" stroke="#7a2124" stroke-width="36" filter="url(#b16)" opacity=".55"/>
<path d="M669.0 690.0 C668.9 682.0 669.1 657.7 668.3 641.8 C667.5 625.9 666.3 610.4 664.4 594.8 C662.5 579.1 659.9 562.9 656.6 547.9 C653.3 532.9 650.0 519.1 644.8 504.8 C639.6 490.5 631.7 474.2 625.2 461.8 C618.7 449.4 609.0 435.7 605.7 430.5" fill="none" stroke="#a82528" stroke-width="5" filter="url(#b3)" opacity=".55"/>
<ellipse cx="214" cy="488" rx="24" ry="30" fill="#ff3838" filter="url(#b8)" opacity=".7"/>
<path d="M183.0 505.0 C183.2 509.5 183.2 525.0 184.0 532.0 C184.8 539.0 185.7 543.2 188.0 547.0 C190.3 550.8 193.7 552.8 198.0 555.0 C202.3 557.2 211.3 559.2 214.0 560.0" fill="none" stroke="#a02528" stroke-width="7" filter="url(#b3)" opacity=".7"/>
<path d="M214.0 512.0 C214.8 515.8 217.8 527.7 219.0 535.0 C220.2 542.3 221.8 551.5 221.0 556.0 C220.2 560.5 215.2 561.0 214.0 562.0" fill="none" stroke="#9a2427" stroke-width="5" filter="url(#b2)" opacity=".85"/>
<path d="M216.0 561.0 C212.0 562.3 210.3 569.2 208.0 574.0 C205.7 578.8 202.3 585.7 202.0 590.0 C201.7 594.3 203.0 596.7 206.0 600.0 C209.0 603.3 215.0 608.0 220.0 610.0 C225.0 612.0 232.0 612.3 236.0 612.0 C240.0 611.7 243.3 612.5 244.0 608.0 C244.7 603.5 242.0 592.0 240.0 585.0 C238.0 578.0 236.0 570.0 232.0 566.0 C228.0 562.0 220.0 559.7 216.0 561.0 Z" fill="#a82528"/>
<ellipse cx="222" cy="580" rx="10" ry="12" fill="#d0282b" filter="url(#b4)" opacity=".8"/>
<ellipse cx="431" cy="242" rx="3.2" ry="20" transform="rotate(33 431 242)" fill="#ff5050" filter="url(#b2)" opacity=".75"/>
<path d="M449.0 221.0 C450.1 222.9 455.0 228.5 455.5 232.5 C456.0 236.5 453.8 241.2 452.0 245.0 C450.2 248.8 445.8 253.3 444.5 255.0" fill="none" stroke="#b02629" stroke-width="4.5" filter="url(#b2)" opacity=".8"/>
<path d="M452.0 257.0 C450.7 257.3 445.8 257.5 444.0 259.0 C442.2 260.5 441.0 263.5 441.0 266.0 C441.0 268.5 443.5 272.7 444.0 274.0" fill="none" stroke="#962427" stroke-width="3.5" filter="url(#b2)" opacity=".85"/>
<ellipse cx="454" cy="266" rx="3" ry="9" transform="rotate(30 454 266)" fill="#ff4a4a" filter="url(#b2)" opacity=".7"/>
<path d="M466.0 266.0 C466.4 267.8 469.0 273.2 468.5 277.0 C468.0 280.8 463.9 287.0 463.0 289.0" fill="none" stroke="#b42629" stroke-width="3.5" filter="url(#b2)" opacity=".7"/>
<ellipse cx="420" cy="285" rx="9" ry="16" transform="rotate(15 420 285)" fill="#ff4646" filter="url(#b4)" opacity=".45"/>
<path d="M404 335 Q440 332 470 345 Q500 362 530 392 L500 380 Q460 352 404 372 Z" fill="#d2282b" filter="url(#b3)" opacity=".85"/>
<ellipse cx="466" cy="410" rx="16" ry="56" transform="rotate(-32 466 410)" fill="#ff4a4a" filter="url(#b8)" opacity=".75"/>
<path d="M525 380 L535 392 L536 420 L525 440" fill="none" stroke="#e0292c" stroke-width="6" filter="url(#b4)" opacity=".6"/>
</g>
<path d="M246.0 180.0 C248.3 181.3 255.0 184.0 260.0 188.0 C265.0 192.0 271.0 198.0 276.0 204.0 C281.0 210.0 286.0 217.3 290.0 224.0 C294.0 230.7 297.0 238.0 300.0 244.0 C303.0 250.0 305.7 255.3 308.0 260.0 C310.3 264.7 312.3 265.3 314.0 272.0 C315.7 278.7 317.7 290.3 318.0 300.0 C318.3 309.7 317.0 320.0 316.0 330.0 C315.0 340.0 312.8 350.0 312.0 360.0 C311.2 370.0 310.7 381.7 311.0 390.0 C311.3 398.3 312.8 404.0 314.0 410.0 C315.2 416.0 317.3 423.3 318.0 426.0 C320.7 425.7 328.0 422.7 334.0 424.0 C340.0 425.3 347.3 430.7 354.0 434.0 C360.7 437.3 368.0 442.2 374.0 444.0 C380.0 445.8 384.0 446.0 390.0 445.0 C396.0 444.0 406.7 439.2 410.0 438.0 C409.2 433.3 406.3 418.8 405.0 410.0 C403.7 401.2 402.5 393.3 402.0 385.0 C401.5 376.7 401.3 369.2 402.0 360.0 C402.7 350.8 405.0 340.0 406.0 330.0 C407.0 320.0 407.8 309.7 408.0 300.0 C408.2 290.3 408.0 281.3 407.0 272.0 C406.0 262.7 404.5 254.0 402.0 244.0 C399.5 234.0 395.7 221.3 392.0 212.0 C388.3 202.7 384.7 195.3 380.0 188.0 C375.3 180.7 370.7 174.3 364.0 168.0 C357.3 161.7 350.7 155.3 340.0 150.0 C329.3 144.7 312.0 137.3 300.0 136.0 C288.0 134.7 273.3 141.0 268.0 142.0 L246.0 180.0 Z" fill="url(#gAAoV)"/>
<path d="M405.0 410.0 C404.5 405.8 402.5 393.3 402.0 385.0 C401.5 376.7 401.3 369.2 402.0 360.0 C402.7 350.8 405.0 340.0 406.0 330.0 C407.0 320.0 407.8 309.7 408.0 300.0 C408.2 290.3 408.0 281.3 407.0 272.0 C406.0 262.7 404.5 254.0 402.0 244.0 C399.5 234.0 395.7 221.3 392.0 212.0 C388.3 202.7 384.7 195.3 380.0 188.0 C375.3 180.7 370.7 174.3 364.0 168.0 C357.3 161.7 344.0 153.0 340.0 150.0" fill="none" stroke="#a81e22" stroke-width=".9" stroke-opacity=".7"/>
<g clip-path="url(#cFold)">
<path d="M237.1 174.2 C237.5 177.0 243.5 179.7 247.2 182.2 C250.8 184.7 254.4 185.4 259.0 189.2 C263.7 192.9 269.9 199.0 274.8 205.0 C279.8 210.9 284.7 218.2 288.7 224.8 C292.7 231.4 295.7 238.7 298.7 244.7 C301.6 250.7 304.3 256.1 306.7 260.7 C309.0 265.3 310.9 265.8 312.5 272.4 C314.2 278.9 316.2 290.5 316.5 300.1 C316.8 309.6 315.5 319.9 314.5 329.9 C313.5 339.8 308.0 354.4 310.5 359.8 C313.1 365.2 325.3 367.0 329.8 362.4 C334.4 357.8 335.5 342.7 337.9 332.2 C340.2 321.6 343.1 310.3 344.0 299.1 C344.9 287.9 344.3 273.6 343.1 264.7 C341.9 255.8 338.7 251.7 336.6 245.7 C334.5 239.7 333.0 235.5 330.4 228.8 C327.8 222.1 325.3 213.5 320.9 205.5 C316.4 197.5 310.6 187.7 303.7 181.0 C296.7 174.2 286.3 167.8 279.0 164.8 C271.8 161.8 266.2 162.8 260.4 162.8 C254.6 162.9 248.1 163.3 244.2 165.2 C240.4 167.1 236.6 171.3 237.1 174.2 Z" fill="#c4282b" filter="url(#b8)" opacity=".75"/>
<path d="M237.1 174.2 C238.3 176.1 243.5 179.7 247.2 182.2 C250.8 184.7 254.4 185.4 259.0 189.2 C263.7 192.9 269.9 199.0 274.8 205.0 C279.8 210.9 284.7 218.2 288.7 224.8 C292.7 231.4 295.7 238.7 298.7 244.7 C301.6 250.7 304.3 256.1 306.7 260.7 C309.0 265.3 310.9 265.8 312.5 272.4 C314.2 278.9 316.2 290.5 316.5 300.1 C316.8 309.6 315.5 319.9 314.5 329.9 C313.5 339.8 310.3 354.7 310.5 359.8 C310.8 364.9 313.9 365.4 316.0 360.5 C318.0 355.7 321.0 340.8 323.0 330.7 C325.0 320.6 327.4 310.0 328.0 299.7 C328.6 289.3 327.7 276.6 326.6 268.8 C325.5 261.1 323.5 258.6 321.4 253.3 C319.4 248.0 317.1 243.2 314.3 236.8 C311.5 230.5 308.8 222.5 304.6 215.3 C300.4 208.0 295.0 199.5 289.1 193.1 C283.1 186.8 274.9 180.4 268.9 177.2 C262.9 173.9 257.9 174.7 253.1 173.6 C248.2 172.5 242.5 170.6 239.9 170.7 C237.2 170.8 235.8 172.2 237.1 174.2 Z" fill="#8a2326" filter="url(#b4)" opacity=".95"/>
<ellipse cx="251" cy="185" rx="9" ry="6" transform="rotate(35 251 185)" fill="#7e2225" filter="url(#b4)" opacity=".7"/>
</g>
<g clip-path="url(#cAAo)">
<path d="M316.0 330.0 C315.3 335.0 312.8 350.0 312.0 360.0 C311.2 370.0 310.7 381.7 311.0 390.0 C311.3 398.3 312.8 404.0 314.0 410.0 C315.2 416.0 317.3 423.3 318.0 426.0" fill="none" stroke="#a42528" stroke-width="9" filter="url(#b4)" opacity=".6"/>
<path d="M407.0 272.0 C407.2 276.7 408.2 290.3 408.0 300.0 C407.8 309.7 407.0 320.0 406.0 330.0 C405.0 340.0 402.7 350.8 402.0 360.0 C401.3 369.2 401.5 376.7 402.0 385.0 C402.5 393.3 403.7 401.2 405.0 410.0 C406.3 418.8 409.2 433.3 410.0 438.0" fill="none" stroke="#b02629" stroke-width="8" filter="url(#b4)" opacity=".6"/>
<path d="M322.0 168.0 C326.3 173.3 341.3 188.0 348.0 200.0 C354.7 212.0 358.7 227.5 362.0 240.0 C365.3 252.5 367.0 269.2 368.0 275.0" fill="none" stroke="#ff4c4c" stroke-width="12" filter="url(#b6)" opacity=".85"/>
<ellipse cx="360" cy="385" rx="50" ry="26" fill="#962427" filter="url(#b12)" opacity=".5"/>
<path d="M305 428 Q330 414 358 411 Q385 408 415 404 L415 450 L305 450 Z" fill="#d62a2c" filter="url(#b2)" opacity=".85"/>
</g>
<path d="M267.0 122.0 C266.5 119.0 265.2 109.3 264.0 104.0 C262.8 98.7 261.7 93.7 260.0 90.0 C258.3 86.3 256.5 84.7 254.0 82.0 C251.5 79.3 247.2 77.0 245.0 74.0 C242.8 71.0 241.7 67.3 241.0 64.0 C240.3 60.7 240.3 57.3 241.0 54.0 C241.7 50.7 243.0 46.7 245.0 44.0 C247.0 41.3 250.2 39.3 253.0 38.0 C255.8 36.7 259.2 36.2 262.0 36.0 C264.8 35.8 267.0 36.3 270.0 37.0 C273.0 37.7 278.3 39.5 280.0 40.0 L297.0 131.0 C294.5 131.5 286.8 134.2 282.0 134.0 C277.2 133.8 270.5 132.0 268.0 130.0 C265.5 128.0 267.2 123.3 267.0 122.0 Z" fill="url(#gA)" stroke="#a81e22" stroke-width=".9" stroke-opacity=".7"/>
<g clip-path="url(#cA)">
<path d="M241.0 66.0 C241.7 67.7 242.8 73.0 245.0 76.0 C247.2 79.0 251.5 81.3 254.0 84.0 C256.5 86.7 258.3 88.3 260.0 92.0 C261.7 95.7 262.8 100.7 264.0 106.0 C265.2 111.3 266.5 121.0 267.0 124.0" fill="none" stroke="#a82528" stroke-width="5" filter="url(#b2)" opacity=".8"/>
</g>
<path d="M272.0 16.0 L296.0 148.0 C297.5 149.3 301.3 154.0 305.0 156.0 C308.7 158.0 315.8 159.3 318.0 160.0 L345.0 130.0 L340.0 108.0 L320.0 11.0 L272.0 16.0 Z" fill="url(#gB)" stroke="#a81e22" stroke-width=".9" stroke-opacity=".7"/>
<ellipse cx="296" cy="13.6" rx="24.3" ry="8.7" transform="rotate(-6 296 13.6)" fill="url(#gBe)" stroke="#ee2b2d" stroke-width="1.8"/>
<path d="M353.6 66.0 C353.5 68.3 353.8 75.0 353.0 80.0 C352.2 85.0 351.2 90.7 349.0 96.0 C346.8 101.3 343.2 106.7 340.0 112.0 C336.8 117.3 333.0 122.7 330.0 128.0 C327.0 133.3 324.0 138.7 322.0 144.0 C320.0 149.3 318.5 154.7 318.0 160.0 C317.5 165.3 318.0 172.0 319.0 176.0 C320.0 180.0 320.5 182.0 324.0 184.0 C327.5 186.0 334.7 188.3 340.0 188.0 C345.3 187.7 352.2 184.7 356.0 182.0 C359.8 179.3 361.2 175.7 363.0 172.0 C364.8 168.3 365.3 163.5 367.0 160.0 C368.7 156.5 370.7 153.7 373.0 151.0 C375.3 148.3 378.3 146.2 381.0 144.0 C383.7 141.8 387.7 139.0 389.0 138.0 C390.5 139.3 394.5 145.0 398.0 146.0 C401.5 147.0 406.3 146.0 410.0 144.0 C413.7 142.0 418.0 137.7 420.0 134.0 C422.0 130.3 421.7 124.0 422.0 122.0 C421.0 120.3 418.3 115.3 416.0 112.0 C413.7 108.7 410.8 105.2 408.0 102.0 C405.2 98.8 400.9 94.5 399.5 93.0 C399.6 90.8 399.8 84.5 400.0 80.0 C400.2 75.5 400.8 68.3 401.0 66.0 L353.6 66.0 Z" fill="#9c2427" stroke="#8a1c20" stroke-width=".9" stroke-opacity=".7"/>
<g clip-path="url(#cC)">
<path d="M350 60 H404 V96 L380 100 L350 104 Z" fill="url(#gCt)"/>
<path d="M352.0 112.0 C354.7 106.0 364.1 105.3 372.0 102.0 C379.9 98.7 394.9 93.7 399.5 92.0 L424.0 120.0 L389.0 139.0 C387.2 140.5 381.8 146.2 378.0 148.0 C374.2 149.8 369.7 151.7 366.0 150.0 C362.3 148.3 358.3 144.3 356.0 138.0 C353.7 131.7 349.3 118.0 352.0 112.0 Z" fill="#ff3232" filter="url(#b3)"/>
<path d="M352 104 L340 125 L328 150 L335 175 L352 178 L362 160 L372 146 L360 130 Z" fill="#942326" filter="url(#b6)" opacity=".8"/>
<path d="M322 150 L320 176 L330 187" fill="none" stroke="#b42629" stroke-width="5" filter="url(#b3)" opacity=".7"/>
</g>
<ellipse cx="377.6" cy="65.4" rx="22.8" ry="10.6" fill="#b02629" stroke="#ea2a2c" stroke-width="2.6"/>
<ellipse cx="405.8" cy="132.6" rx="16.6" ry="8.8" transform="rotate(-25 405.8 132.6)" fill="url(#gCe)" stroke="#c4272a" stroke-width="1.8"/>
<path d="M250.0 476.0 C253.3 474.2 261.7 470.0 270.0 465.0 C278.3 460.0 292.0 452.5 300.0 446.0 C308.0 439.5 315.0 429.3 318.0 426.0 C320.7 425.7 328.0 422.7 334.0 424.0 C340.0 425.3 347.3 430.7 354.0 434.0 C360.7 437.3 368.0 442.2 374.0 444.0 C380.0 445.8 385.3 444.2 390.0 445.0 C394.7 445.8 398.7 445.8 402.0 449.0 C405.3 452.2 406.7 459.8 410.0 464.0 C413.3 468.2 418.3 469.3 422.0 474.0 C425.7 478.7 429.3 485.0 432.0 492.0 C434.7 499.0 437.0 508.7 438.0 516.0 C439.0 523.3 439.3 527.0 438.0 536.0 C436.7 545.0 432.6 559.8 430.0 570.0 C427.4 580.2 425.5 588.7 422.5 597.0 C419.5 605.3 415.4 610.8 412.0 620.0 C408.6 629.2 404.0 644.5 402.0 652.0 C400.0 659.5 401.7 661.2 400.0 665.0 C398.3 668.8 396.2 672.5 392.0 675.0 C387.8 677.5 384.2 680.5 375.0 680.0 C365.8 679.5 349.5 675.8 337.0 672.0 C324.5 668.2 310.2 661.8 300.0 657.5 C289.8 653.2 283.3 651.2 276.0 646.0 C268.7 640.8 261.3 632.3 256.0 626.0 C250.7 619.7 247.2 614.0 244.0 608.0 C240.8 602.0 237.7 599.7 237.0 590.0 C236.3 580.3 238.2 563.3 240.0 550.0 C241.8 536.7 246.3 522.3 248.0 510.0 C249.7 497.7 249.7 481.7 250.0 476.0 Z" fill="url(#gCA)" stroke="#9a1c20" stroke-width=".9" stroke-opacity=".55"/>
<g clip-path="url(#cCA)">
<path d="M250 478 L300 446 L318 426 L354 434 L390 445 L410 464 L436 500 L400 512 L350 520 L300 522 L252 512 Z" fill="#ff4040" filter="url(#b8)" opacity=".8"/>
<ellipse cx="374" cy="488" rx="40" ry="18" transform="rotate(-20 374 488)" fill="#ff5656" filter="url(#b8)" opacity=".7"/>
<path d="M375.0 680.0 C368.7 678.7 349.5 675.8 337.0 672.0 C324.5 668.2 310.2 661.8 300.0 657.5 C289.8 653.2 283.3 651.2 276.0 646.0 C268.7 640.8 261.3 632.3 256.0 626.0 C250.7 619.7 247.2 614.0 244.0 608.0 C240.8 602.0 237.7 599.7 237.0 590.0 C236.3 580.3 238.2 563.3 240.0 550.0 C241.8 536.7 246.3 522.3 248.0 510.0 C249.7 497.7 249.7 481.7 250.0 476.0" fill="none" stroke="#7e2225" stroke-width="12" filter="url(#b4)" opacity=".6"/>
<path d="M410.0 464.0 C412.0 465.7 418.3 469.3 422.0 474.0 C425.7 478.7 429.3 485.0 432.0 492.0 C434.7 499.0 437.0 508.7 438.0 516.0 C439.0 523.3 439.3 527.0 438.0 536.0 C436.7 545.0 432.6 559.8 430.0 570.0 C427.4 580.2 425.5 588.7 422.5 597.0 C419.5 605.3 415.4 610.8 412.0 620.0 C408.6 629.2 404.0 644.5 402.0 652.0 C400.0 659.5 401.7 661.2 400.0 665.0 C398.3 668.8 393.3 673.3 392.0 675.0" fill="none" stroke="#a02528" stroke-width="10" filter="url(#b4)" opacity=".75"/>
</g>
<g id="vep">
<path d="M140 577 H181 V637 A20.5 7 0 0 1 140 637 Z" fill="url(#gIVC)"/>
<path d="M182 312 H223 V413 Q222 421 214 425 L198 425 L190 428 L183.5 438 L181 446 V457 H141 V446 L140.3 440 L142 430 L150 410 L166 394 L182 386 Z" fill="url(#gYel)"/>
<path d="M182.0 384.0 C179.3 385.7 171.3 389.7 166.0 394.0 C160.7 398.3 154.0 404.0 150.0 410.0 C146.0 416.0 143.6 424.8 142.0 430.0 C140.4 435.2 140.6 439.2 140.3 441.0 L141.0 446.0 L141.0 457.0 L181.0 457.0 L181.0 446.0 C181.4 444.7 182.0 441.0 183.5 438.0 C185.0 435.0 187.6 430.3 190.0 428.0 C192.4 425.7 196.7 424.7 198.0 424.0 L214.0 404.0 L200.0 392.0 L182.0 384.0 Z" fill="url(#gYel2)"/>
<path d="M182 386 L200 392 L214 404" fill="none" stroke="#c8c834" stroke-width="1.5" opacity=".8"/>
<path d="M198.0 425.0 C198.3 426.5 198.8 431.3 200.0 434.0 C201.2 436.7 203.0 439.0 205.0 441.0 C207.0 443.0 209.7 444.8 212.0 446.0 C214.3 447.2 217.8 447.7 219.0 448.0 L219.0 435.0 C218.2 434.7 215.5 434.2 214.0 433.0 C212.5 431.8 210.8 429.3 210.0 428.0 C209.2 426.7 209.2 425.5 209.0 425.0 L198.0 425.0 Z" fill="url(#gNoz)"/>
<path d="M210.5 331.5 L218.5 325 L231 334.5 L223 344 Z" fill="#d6d632"/><path d="M210.5 331.5 L218.5 325 L222.5 328 L214 335 Z" fill="#eeee5a"/><path d="M219 340.5 L223 344 L231 334.5 L227 331.5 Z" fill="#b4b42a" opacity=".7"/>
<path d="M138.8 441 A22 14.5 0 0 0 182.4 442.5 L181 452 V578 Q160 584 139 578 V452 Z" fill="url(#gGraft)"/>
<path d="M139 450.00 Q160 455.50 181 450.00M139 452.90 Q160 458.40 181 452.90M139 455.80 Q160 461.30 181 455.80M139 458.70 Q160 464.20 181 458.70M139 461.60 Q160 467.10 181 461.60M139 464.50 Q160 470.00 181 464.50M139 467.40 Q160 472.90 181 467.40M139 470.30 Q160 475.80 181 470.30M139 473.20 Q160 478.70 181 473.20M139 476.10 Q160 481.60 181 476.10M139 479.00 Q160 484.50 181 479.00M139 481.90 Q160 487.40 181 481.90M139 484.80 Q160 490.30 181 484.80M139 487.70 Q160 493.20 181 487.70M139 490.60 Q160 496.10 181 490.60M139 493.50 Q160 499.00 181 493.50M139 496.40 Q160 501.90 181 496.40M139 499.30 Q160 504.80 181 499.30M139 502.20 Q160 507.70 181 502.20M139 505.10 Q160 510.60 181 505.10M139 508.00 Q160 513.50 181 508.00M139 510.90 Q160 516.40 181 510.90M139 513.80 Q160 519.30 181 513.80M139 516.70 Q160 522.20 181 516.70M139 519.60 Q160 525.10 181 519.60M139 522.50 Q160 528.00 181 522.50M139 525.40 Q160 530.90 181 525.40M139 528.30 Q160 533.80 181 528.30M139 531.20 Q160 536.70 181 531.20M139 534.10 Q160 539.60 181 534.10M139 537.00 Q160 542.50 181 537.00M139 539.90 Q160 545.40 181 539.90M139 542.80 Q160 548.30 181 542.80M139 545.70 Q160 551.20 181 545.70M139 548.60 Q160 554.10 181 548.60M139 551.50 Q160 557.00 181 551.50M139 554.40 Q160 559.90 181 554.40M139 557.30 Q160 562.80 181 557.30M139 560.20 Q160 565.70 181 560.20M139 563.10 Q160 568.60 181 563.10M139 566.00 Q160 571.50 181 566.00M139 568.90 Q160 574.40 181 568.90M139 571.80 Q160 577.30 181 571.80M139 574.70 Q160 580.20 181 574.70M139 577.60 Q160 583.10 181 577.60" fill="none" stroke="#383838" stroke-width=".85" opacity=".55"/>
<path d="M181 289 H223 V312 Q202 330 181 312 Z" fill="url(#gGraft2)"/>
<path d="M181 289.00 Q202 294.00 223 289.00M181 292.30 Q202 297.30 223 292.30M181 295.60 Q202 300.60 223 295.60M181 298.90 Q202 303.90 223 298.90M181 302.20 Q202 307.20 223 302.20M181 305.50 Q202 310.50 223 305.50M181 308.80 Q202 313.80 223 308.80M181 312.10 Q202 317.10 223 312.10M181 315.40 Q202 320.40 223 315.40" fill="none" stroke="#383838" stroke-width=".95" opacity=".55"/>
<path d="M180.6 310.5 A22 12.5 0 0 0 224.6 310.5" fill="none" stroke="#141414" stroke-width="4.2"/>
<path d="M138.6 440.5 A22 14.5 0 0 0 182.6 442" fill="none" stroke="#141414" stroke-width="4.2"/>
<rect x="218" y="431.5" width="4.6" height="22.5" rx="1.2" fill="#141414"/>
<path d="M143.5 578.5 l1 6 M148.5 580.5 l.8 6 M153.5 582 l.6 6 M158.5 582.6 l.3 6 M163.5 582.6 l-.3 6 M168.5 582 l-.6 6 M173.5 580.5 l-.8 6 M177.5 578.5 l-1 6" stroke="#111" stroke-width="1.2" fill="none"/>
</g>
<g fill="none">
<path d="M320.0 402.5 C316.7 404.1 306.7 408.6 300.0 412.0 C293.3 415.4 286.7 419.5 280.0 423.0 C273.3 426.5 266.7 430.2 260.0 433.0 C253.3 435.8 246.2 437.8 240.0 439.5 C233.8 441.2 225.8 442.4 223.0 443.0" stroke="#1c1c1c" stroke-width="13.6"/><path d="M320.0 402.5 C316.7 404.1 306.7 408.6 300.0 412.0 C293.3 415.4 286.7 419.5 280.0 423.0 C273.3 426.5 266.7 430.2 260.0 433.0 C253.3 435.8 246.2 437.8 240.0 439.5 C233.8 441.2 225.8 442.4 223.0 443.0" stroke="#f2f2f2" stroke-width="11.2"/><path d="M320.0 402.5 C316.7 404.1 306.7 408.6 300.0 412.0 C293.3 415.4 286.7 419.5 280.0 423.0 C273.3 426.5 266.7 430.2 260.0 433.0 C253.3 435.8 246.2 437.8 240.0 439.5 C233.8 441.2 225.8 442.4 223.0 443.0" stroke="#fff" stroke-width="5" transform="translate(-.6 -1.6)"/>
<path d="M320.0 402.5 C316.7 404.1 306.7 408.6 300.0 412.0 C293.3 415.4 286.7 419.5 280.0 423.0 C273.3 426.5 266.7 430.2 260.0 433.0 C253.3 435.8 246.2 437.8 240.0 439.5 C233.8 441.2 225.8 442.4 223.0 443.0" stroke="#c8c8c8" stroke-width="2" transform="translate(1.5 4)" opacity=".9"/>
<path d="M226.0 340.0 C229.0 343.7 237.7 354.0 244.0 362.0 C250.3 370.0 258.0 378.7 264.0 388.0 C270.0 397.3 275.3 408.3 280.0 418.0 C284.7 427.7 288.5 437.7 292.0 446.0 C295.5 454.3 299.5 464.3 301.0 468.0" stroke="#1c1c1c" stroke-width="13.6" stroke-linecap="round"/><path d="M226.0 340.0 C229.0 343.7 237.7 354.0 244.0 362.0 C250.3 370.0 258.0 378.7 264.0 388.0 C270.0 397.3 275.3 408.3 280.0 418.0 C284.7 427.7 288.5 437.7 292.0 446.0 C295.5 454.3 299.5 464.3 301.0 468.0" stroke="#f2f2f2" stroke-width="11.2" stroke-linecap="round"/><path d="M226.0 340.0 C229.0 343.7 237.7 354.0 244.0 362.0 C250.3 370.0 258.0 378.7 264.0 388.0 C270.0 397.3 275.3 408.3 280.0 418.0 C284.7 427.7 288.5 437.7 292.0 446.0 C295.5 454.3 299.5 464.3 301.0 468.0" stroke="#fff" stroke-width="5" transform="translate(1.6 -.8)"/>
<path d="M226.0 340.0 C229.0 343.7 237.7 354.0 244.0 362.0 C250.3 370.0 258.0 378.7 264.0 388.0 C270.0 397.3 275.3 408.3 280.0 418.0 C284.7 427.7 288.5 437.7 292.0 446.0 C295.5 454.3 299.5 464.3 301.0 468.0" stroke="#c4c4c4" stroke-width="2" transform="translate(-4 1.8)" opacity=".9"/>
</g>
<g stroke="#111" stroke-width="1.7" fill="none"><path d="M243 357 L261.5 383"/><path d="M263.5 386 l-6.5 -3 l4.5 -3.8 Z" fill="#111"/><path d="M266 430 L239 440.5"/><path d="M235 442 l6 -5.4 l2.2 5.6 Z" fill="#111"/>
<path d="M314.5 393.5 l1.8 3.6 M318.5 394.5 l1.2 3.6 M322 397.5 l-.4 3.4 M323.5 402 l-2.6 2 M323 406.5 l-3 1 M321 410.5 l-3 .4 M318 413 l-2 -1" stroke-width="1.5"/>
<path d="M289.5 459.5 l3 1.6 M291 464 l3 1.2 M293.5 468.5 l2.6 .2 M297 472.5 l1.6 -2.2 M301 474.5 l.4 -2.8 M305.5 474 l-1 -2.6 M308.5 470 l-2.6 -1.2 M309.5 465 l-3 -.4 M309 460.5 l-3 .6" stroke-width="1.5"/></g>
<g class="hl">
<text class="hlb" transform="translate(172.3 124.5) rotate(90) scale(.93 1)">SVC</text>
<text class="hlb" transform="translate(237.5 250.5) rotate(-12) scale(.93 1)">LPA</text>
<text class="hli" transform="translate(54 284.5) rotate(-8) scale(.93 1)">RPA</text>
<text class="hli" style="font-size:35.6px" transform="translate(263.5 279.5) rotate(85) scale(.93 1)">DAo</text>
<text class="hli" style="font-size:35.8px" transform="translate(377 361) rotate(-88) scale(.93 1)">AAo</text>
<text class="hli" transform="translate(172 391) rotate(-90) scale(.93 1)">VEP</text>
<text class="hli" transform="translate(172 640) rotate(-90) scale(.93 1)">IVC</text>
<text class="hln" transform="translate(300.5 568.5) scale(.946 1)">CA</text>
<text class="hln" transform="translate(488.5 707.3) scale(.946 1)">SV</text>
</g>
</g>
<!--DIAGRAM-->
<g id="diagram" fill="none" stroke-linecap="butt">
  <!-- pink -->
  <g stroke="#ff3399" stroke-width="8.5">
    <path d="M772.5 498 V624"/>
    <path d="M831 681.5 L1440 686 A40 40 0 0 0 1480.3 646 V275 A36 36 0 0 0 1444.3 239 H1418"/>
    <path d="M1051.6 498 V683.2"/>
    <path d="M1332.4 498 V685.2"/>
  </g>
  <g fill="#ff3399" stroke="none">
    <path d="M758.6 556 H786.1999999999999 L772.4 584.5 Z"/>
    <path d="M927.2 668.2 V695.8 L955.7 682 Z"/>
    <path d="M1194.4 670.2 V697.8 L1222.9 684 Z"/>
    <path d="M1402.3 672.2 V699.8 L1430.8 686 Z"/>
    <path d="M1038.0 588.5 H1065.6 L1051.8 560.0 Z"/>
    <path d="M1318.6000000000001 582.1 H1346.2 L1332.4 553.6 Z"/>
    <path d="M1466.6000000000001 450.2 H1494.2 L1480.4 421.7 Z"/>
  </g>
  <!-- red -->
  <path d="M819 238.5 H810 A37.7 37.7 0 0 0 772.3 276.2 V384" stroke="#ff0000" stroke-width="8"/>
  <path d="M758.4000000000001 318.3 H786.0 L772.2 346.8 Z" fill="#ff0000"/>
  <!-- light blue -->
  <path d="M936 237 H1018" stroke="#6666ff" stroke-width="8"/>
  <path d="M983 222.79999999999998 V250.4 L954.5 236.6 Z" fill="#6666ff"/>
  <!-- blue -->
  <path d="M1086 237 L1302 238.5" stroke="#0000ff" stroke-width="8.5"/>
  <path d="M1212.9 223.89999999999998 V251.5 L1184.4 237.7 Z" fill="#0000ff"/>
  <path d="M1110 439.8 H1274" stroke="#0000ff" stroke-width="8.5"/>
  <path d="M1186.2 425.8 V453.40000000000003 L1157.7 439.6 Z" fill="#0000ff"/>
  <!-- purple -->
  <path d="M1051.8 284 V382" stroke="#cc66ff" stroke-width="8"/>
  <path d="M1038.0 346 H1065.6 L1051.8 317.5 Z" fill="#cc66ff"/>
  <path d="M831 439.5 H993" stroke="#cc66ff" stroke-width="8"/>
  <path d="M911.9 425.9 V453.5 L883.4 439.7 Z" fill="#cc66ff"/>
  <!-- TCPC T -->
  <path d="M1016 230.5 H1087 V244 H1057.7 V284.5 H1044.4 V244 H1016 Z" fill="#000"/>
  <!-- circles -->
  <circle class="circ" cx="877.3" cy="237.3" r="58"/>
  <circle class="circ" cx="1360" cy="238.2" r="58"/>
  <circle class="circ" cx="772.5" cy="440" r="58"/>
  <circle class="circ" cx="1051.7" cy="439.5" r="58"/>
  <circle class="circ" cx="1333" cy="439.5" r="58"/>
  <circle class="circ" cx="773" cy="681.4" r="58"/>
</g>
<g id="o2">
  <g fill="none" stroke="#548235" stroke-width="5.2">
    <path d="M896.3 134 C896 146 889 155 879 157.5 C871 159 865 164 861 172"/>
    <path d="M1360 179.5 C1361 168 1368 160.5 1377 158.7 C1386 157.5 1391 153 1394.5 146.5"/>
    <path d="M1342.1 381 C1343 368 1350.5 358.5 1360 355.8 C1369 354.3 1373.5 350.5 1377 344"/>
  </g>
  <g fill="#548235">
    <path d="M853 167.2 L866.8 172.3 L855.4 182.8 Z"/>
    <path d="M1399.4 134.3 L1388 146.2 L1402.5 150.6 Z"/>
    <path d="M1381.5 332 L1370.4 343.7 L1384.8 348.5 Z"/>
  </g>
  <g class="o2t">
    <text transform="translate(848.5 146) rotate(-6) scale(.94 1.04)" class="oo">O</text>
    <text transform="translate(878 141.5) rotate(-30)" class="o2s">2</text>
    <text transform="translate(1349.5 151.5) rotate(-6) scale(.94 1.04)" class="oo">O</text>
    <text transform="translate(1379 145.5) rotate(-30)" class="o2s">2</text>
    <text transform="translate(1332 349.5) rotate(-6) scale(.94 1.04)" class="oo">O</text>
    <text transform="translate(1362 343.5) rotate(-30)" class="o2s">2</text>
  </g>
</g>
<g id="labels">
  <text class="node" transform="translate(880 252) scale(0.946 1)" style="font-size:50px">L</text>
  <text class="node" transform="translate(1360.5 251.5) scale(0.946 1)">UB</text>
  <text class="node" transform="translate(771.5 454.5) scale(0.946 1)">CA</text>
  <text class="node" transform="translate(1052.5 454.3) scale(0.946 1)">VEP</text>
  <text class="node" transform="translate(1333 453.7) scale(0.946 1)">LB</text>
  <text class="node" transform="translate(772.5 697.3) scale(0.946 1)">SV</text>
  <text class="lbl" transform="translate(1014.5 214.5) scale(0.93 1)">TCPC</text>
  <text class="lbl" transform="translate(1142.7 214.5) scale(0.93 1)">Q<tspan class="sub" dy="7.5">SVC</tspan><tspan dy="-7.5"> , C</tspan><tspan class="sub" dy="7.5">sv</tspan></text>
  <text class="lbl" transform="translate(846.8 415.7) scale(0.93 1)">Q<tspan class="sub" dy="7.5">AD</tspan><tspan dy="-7.5"> , C</tspan><tspan class="sub" dy="7.5">AD</tspan></text>
  <text class="lbl" transform="translate(1119.6 406.8) scale(0.93 1)">Q<tspan class="sub" dy="7.5">IVC</tspan><tspan dy="-7.5"> , C</tspan><tspan class="sub" dy="7.5">sv</tspan></text>
  <text class="lbl" transform="translate(870.5 728.4) scale(0.93 1)">CO , C<tspan class="sub" dy="7.3">sa</tspan></text>
  <text class="lbl" transform="translate(1140 729.7) scale(0.93 1)">Q<tspan class="sub" dy="7.2">S</tspan><tspan dy="-7.2"> , C</tspan><tspan class="sub" dy="7.2">sa</tspan></text>
  <text class="lbl up" transform="translate(743.5 368.3) rotate(-90) scale(0.93 1)">Q<tspan class="sub" dy="6.8">P</tspan><tspan dy="-6.8"> , C</tspan><tspan class="sub" dy="6.8">pv</tspan></text>
  <text class="lbl up" transform="translate(800.3 502.3) rotate(90) scale(0.93 1)">CO , C<tspan class="subn" dy="7.3">sa</tspan></text>
  <text class="lbl up" transform="translate(1027 654.8) rotate(-90) scale(0.93 1)">Q<tspan class="sub" dy="7">AoG</tspan><tspan dy="-7"> , C</tspan><tspan class="sub" dy="7">sa</tspan></text>
  <text class="lbl up" transform="translate(1306 652.3) rotate(-90) scale(0.93 1)">Q<tspan class="sub" dy="7">IVC</tspan><tspan dy="-7"> , C</tspan><tspan class="sub" dy="7">sa</tspan></text>
  <text class="lbl up" transform="translate(1452.5 520) rotate(-90) scale(0.93 1)">Q<tspan class="sub" dy="7.3">SVC</tspan><tspan dy="-7.3"> , C</tspan><tspan class="sub" dy="7.3">sa</tspan></text>
  <text class="cap" x="399" y="855.5">(a)</text>
  <text class="cap" x="1103" y="855">(b)</text>
</g>
</svg>
</body></html>
